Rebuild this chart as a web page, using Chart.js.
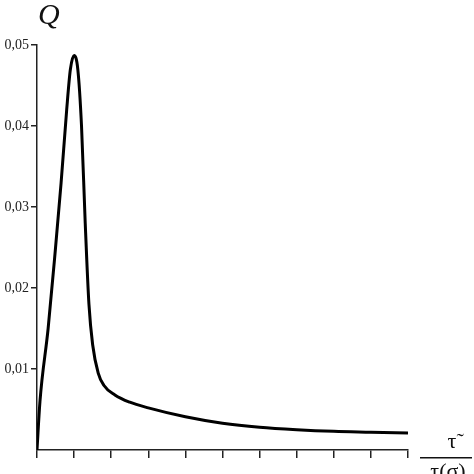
<!DOCTYPE html>
<html><head><meta charset="utf-8">
<script src="https://cdn.jsdelivr.net/npm/chart.js@4"></script>
<style>html,body{margin:0;padding:0;background:#fff}#w{width:474px;height:474px}</style>
</head><body><div id="w"><canvas id="c"></canvas></div>
<script>
const xValues=[0,0.08,0.3,0.5,0.65,0.8,0.9,1.0,1.1,1.2,1.3,1.4,1.5,1.65,1.8,2.1,2.5,3.0,4,5,6,7,8,9,10];
const qValues=[0,0.006,0.015,0.025,0.033,0.042,0.047,0.0487,0.047,0.04,0.028,0.018,0.013,0.0095,0.008,0.0068,0.0059,0.0052,0.0041,0.0033,0.0028,0.0025,0.0023,0.0022,0.0021];
const yTicks=[0.01,0.02,0.03,0.04,0.05];
const labelsPlugin={id:'lbl',afterDraw(ch){const c=ch.ctx;c.save();c.fillStyle='#111';
c.font='italic 30px "Liberation Serif"';c.textAlign='left';c.textBaseline='alphabetic';c.fillText('Q',38,24);
c.font='22px "Liberation Serif"';c.textAlign='center';c.fillText('τ̃',452,448);
c.fillRect(420,457,52,1.5);c.fillText('τ(σ)',448,478);c.restore();}};
new Chart(document.getElementById('c'),{type:'line',
data:{datasets:[{data:xValues.map((x,i)=>({x,y:qValues[i]})),borderColor:'#000',borderWidth:3,pointRadius:0,cubicInterpolationMode:'monotone',fill:false}]},
options:{responsive:true,maintainAspectRatio:false,animation:false,
layout:{padding:{top:45,right:66,left:0,bottom:0}},
plugins:{legend:{display:false},tooltip:{enabled:false}},
scales:{
x:{type:'linear',min:0,max:10,afterFit:s=>{s.height=24},ticks:{display:false,stepSize:1},
grid:{drawOnChartArea:false,tickLength:8,color:'#222',lineWidth:1.5},border:{color:'#222',width:1.5}},
y:{min:0,max:0.05,afterFit:s=>{s.width=37},afterBuildTicks:s=>{s.ticks=yTicks.map(v=>({value:v}))},
ticks:{padding:2,color:'#222',font:{family:'Liberation Serif',size:14},callback:v=>v.toFixed(2).replace('.',',')},
grid:{drawOnChartArea:false,tickLength:6,color:'#222',lineWidth:1.5},border:{color:'#222',width:1.5}}
}},plugins:[labelsPlugin]});
</script></body></html>
